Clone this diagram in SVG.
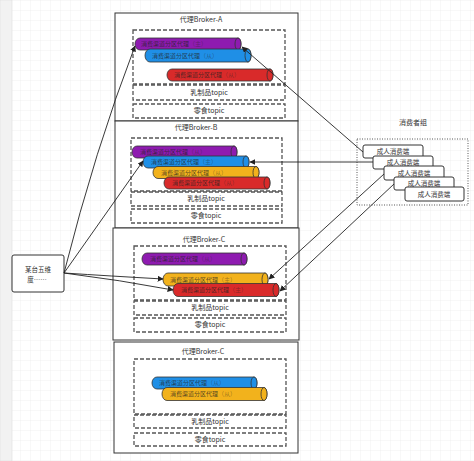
<svg xmlns="http://www.w3.org/2000/svg" width="474" height="461" viewBox="0 0 474 461">
<defs>
<pattern id="grid" width="10" height="10" patternUnits="userSpaceOnUse">
<path d="M10 0H0V10" fill="none" stroke="#e6e6e6" stroke-width="0.6"/>
</pattern>
<marker id="arr" viewBox="0 0 10 10" refX="9" refY="5" markerWidth="6" markerHeight="6" orient="auto" markerUnits="userSpaceOnUse">
<path d="M0 0L10 5L0 10Z" fill="#222"/>
</marker>
<style>
text{font-family:"Noto Sans CJK SC","Noto Sans",sans-serif;fill:#333}
.broker{fill:#fff;stroke:#333;stroke-width:1}
.dash{fill:none;stroke:#555;stroke-width:1.3;stroke-dasharray:4 2}
.title{font-size:7px;text-anchor:middle}
.topic{font-size:7px;text-anchor:middle}
.cyl{stroke:#333;stroke-width:0.8}
.ct{font-size:6px;fill:#222;fill-opacity:0.75}
.lt{fill-opacity:0.45}
.purple{fill:#8e1bb0}
.blue{fill:#1f8fe6}
.red{fill:#d92a2a}
.yellow{fill:#f2b21c}
.card{fill:#fff;stroke:#333;stroke-width:1}
.cardt{font-size:6.5px;text-anchor:middle}
.conn{fill:none;stroke:#222;stroke-width:0.9;marker-end:url(#arr)}
</style>
</defs>
<rect width="474" height="461" fill="#fff"/>
<rect width="474" height="461" fill="url(#grid)"/>
<rect x="0" y="0" width="12" height="461" fill="#f2f2f2" stroke="#dcdcdc" stroke-width="0.6"/>

<g id="broker-a">
<rect class="broker" x="115" y="13" width="183" height="108"/>
<text class="title" x="201" y="22">代理Broker-A</text>
<rect class="dash" x="133" y="30" width="152" height="54"/>
<rect class="dash" x="133" y="85" width="152" height="15"/>
<text class="topic" x="209" y="95">乳制品topic</text>
<rect class="dash" x="133" y="104" width="152" height="14"/>
<text class="topic" x="209" y="113">零食topic</text>
<g id="a-p1"><path class="cyl purple" d="M140 38H238A3 6 0 0 1 238 50H140A5 6 0 0 1 140 38Z"/><ellipse class="cyl purple" cx="238" cy="44" rx="3" ry="6"/><text class="ct" x="141" y="46">消费渠道分区代理<tspan class="lt">（主）</tspan></text></g>
<g id="a-p2"><path class="cyl blue" d="M150 49H248A3 6.5 0 0 1 248 62H150A5 6.5 0 0 1 150 49Z"/><ellipse class="cyl blue" cx="248" cy="55.5" rx="3" ry="6.5"/><text class="ct" x="152" y="57.5">消费渠道分区代理<tspan class="lt">（从）</tspan></text></g>
<g id="a-p3"><path class="cyl red" d="M172 69H270A3 6 0 0 1 270 81H172A5 6 0 0 1 172 69Z"/><ellipse class="cyl red" cx="270" cy="75" rx="3" ry="6"/><text class="ct" x="174" y="77">消费渠道分区代理<tspan class="lt">（从）</tspan></text></g>
</g>

<g id="broker-b">
<rect class="broker" x="115" y="121" width="183" height="107"/>
<text class="title" x="196" y="130">代理Broker-B</text>
<rect class="dash" x="131" y="138" width="151" height="53"/>
<rect class="dash" x="131" y="192" width="151" height="14"/>
<text class="topic" x="206" y="201">乳制品topic</text>
<rect class="dash" x="131" y="209" width="151" height="14"/>
<text class="topic" x="206" y="218">零食topic</text>
<g id="b-p1"><path class="cyl purple" d="M137 146H234A3 6 0 0 1 234 158H137A5 6 0 0 1 137 146Z"/><ellipse class="cyl purple" cx="234" cy="152" rx="3" ry="6"/><text class="ct" x="140" y="154">消费渠道分区代理<tspan class="lt">（从）</tspan></text></g>
<g id="b-p2"><path class="cyl blue" d="M148 156H246A3 6 0 0 1 246 168H148A5 6 0 0 1 148 156Z"/><ellipse class="cyl blue" cx="246" cy="162" rx="3" ry="6"/><text class="ct" x="151" y="164">消费渠道分区代理<tspan class="lt">（主）</tspan></text></g>
<g id="b-p3"><path class="cyl yellow" d="M158 166.5H256A3 6 0 0 1 256 178.5H158A5 6 0 0 1 158 166.5Z"/><ellipse class="cyl yellow" cx="256" cy="172.5" rx="3" ry="6"/><text class="ct" x="161" y="174.5">消费渠道分区代理<tspan class="lt">（从）</tspan></text></g>
<g id="b-p4"><path class="cyl red" d="M169 177H267A3 6 0 0 1 267 189H169A5 6 0 0 1 169 177Z"/><ellipse class="cyl red" cx="267" cy="183" rx="3" ry="6"/><text class="ct" x="172" y="185">消费渠道分区代理<tspan class="lt">（从）</tspan></text></g>
</g>

<g id="broker-c">
<rect class="broker" x="113" y="228" width="186" height="112"/>
<text class="title" x="204" y="242">代理Broker-C</text>
<rect class="dash" x="134" y="246" width="152" height="54"/>
<rect class="dash" x="134" y="301" width="152" height="14"/>
<text class="topic" x="210" y="310">乳制品topic</text>
<rect class="dash" x="134" y="318" width="152" height="14"/>
<text class="topic" x="210" y="327">零食topic</text>
<g id="c-p1"><path class="cyl purple" d="M147 253H244A3 6 0 0 1 244 265H147A5 6 0 0 1 147 253Z"/><ellipse class="cyl purple" cx="244" cy="259" rx="3" ry="6"/><text class="ct" x="150" y="261">消费渠道分区代理<tspan class="lt">（从）</tspan></text></g>
<g id="c-p2"><path class="cyl yellow" d="M168 273H265A3 6.5 0 0 1 265 286H168A5 6.5 0 0 1 168 273Z"/><ellipse class="cyl yellow" cx="265" cy="279.5" rx="3" ry="6.5"/><text class="ct" x="170" y="281.5">消费渠道分区代理<tspan class="lt">（主）</tspan></text></g>
<g id="c-p3"><path class="cyl red" d="M178 283.5H276A3 6.5 0 0 1 276 296.5H178A5 6.5 0 0 1 178 283.5Z"/><ellipse class="cyl red" cx="276" cy="290" rx="3" ry="6.5"/><text class="ct" x="181" y="292">消费渠道分区代理<tspan class="lt">（主）</tspan></text></g>
</g>

<g id="broker-d">
<rect class="broker" x="114" y="342" width="184" height="111"/>
<text class="title" x="203" y="354">代理Broker-C</text>
<rect class="dash" x="134" y="359" width="152" height="55"/>
<rect class="dash" x="134" y="415" width="152" height="13"/>
<text class="topic" x="210" y="423.5">乳制品topic</text>
<rect class="dash" x="134" y="433" width="152" height="13"/>
<text class="topic" x="210" y="441.5">零食topic</text>
<g id="d-p1"><path class="cyl blue" d="M157 377H254A3 6 0 0 1 254 389H157A5 6 0 0 1 157 377Z"/><ellipse class="cyl blue" cx="254" cy="383" rx="3" ry="6"/><text class="ct" x="159" y="385">消费渠道分区代理<tspan class="lt">（从）</tspan></text></g>
<g id="d-p2"><path class="cyl yellow" d="M167 387.5H264A3 6.5 0 0 1 264 400.5H167A5 6.5 0 0 1 167 387.5Z"/><ellipse class="cyl yellow" cx="264" cy="394" rx="3" ry="6.5"/><text class="ct" x="170" y="396">消费渠道分区代理<tspan class="lt">（从）</tspan></text></g>
</g>

<g id="producer">
<rect x="12" y="255" width="52" height="37" rx="2" fill="#fff" stroke="#333" stroke-width="1"/>
<text x="38" y="272" font-size="6.5" text-anchor="middle">某台五维</text>
<text x="37" y="282" font-size="6.5" text-anchor="middle">度……</text>
</g>

<g id="consumer-group">
<rect x="357" y="139" width="111" height="66" fill="none" stroke="#444" stroke-width="0.9" stroke-dasharray="1 1.5"/>
<text x="413" y="125" font-size="7" text-anchor="middle">消费者组</text>
<g id="c1"><rect class="card" x="363" y="145" width="60" height="13" rx="2"/><text class="cardt" x="393" y="154">成人消费端</text></g>
<g id="c2"><rect class="card" x="373" y="156" width="60" height="13" rx="2"/><text class="cardt" x="403" y="165">成人消费端</text></g>
<g id="c3"><rect class="card" x="384" y="166" width="60" height="14" rx="2"/><text class="cardt" x="414" y="175.5">成人消费端</text></g>
<g id="c4"><rect class="card" x="394" y="177" width="60" height="13" rx="2"/><text class="cardt" x="424" y="186">成人消费端</text></g>
<g id="c5"><rect class="card" x="405" y="187" width="59" height="14" rx="2"/><text class="cardt" x="434" y="196.5">成人消费端</text></g>
</g>

<g id="connectors">
<path class="conn" d="M64 273Q95 150 135 46"/>
<path class="conn" d="M64 273L143 161"/>
<path class="conn" d="M64 273Q110 276 163 279"/>
<path class="conn" d="M64 273Q120 280 173 290"/>
<path class="conn" d="M363 152L242 47"/>
<path class="conn" d="M373 162L250 162"/>
<path class="conn" d="M384 174L269 279"/>
<path class="conn" d="M394 184L280 291"/>
</g>
</svg>
